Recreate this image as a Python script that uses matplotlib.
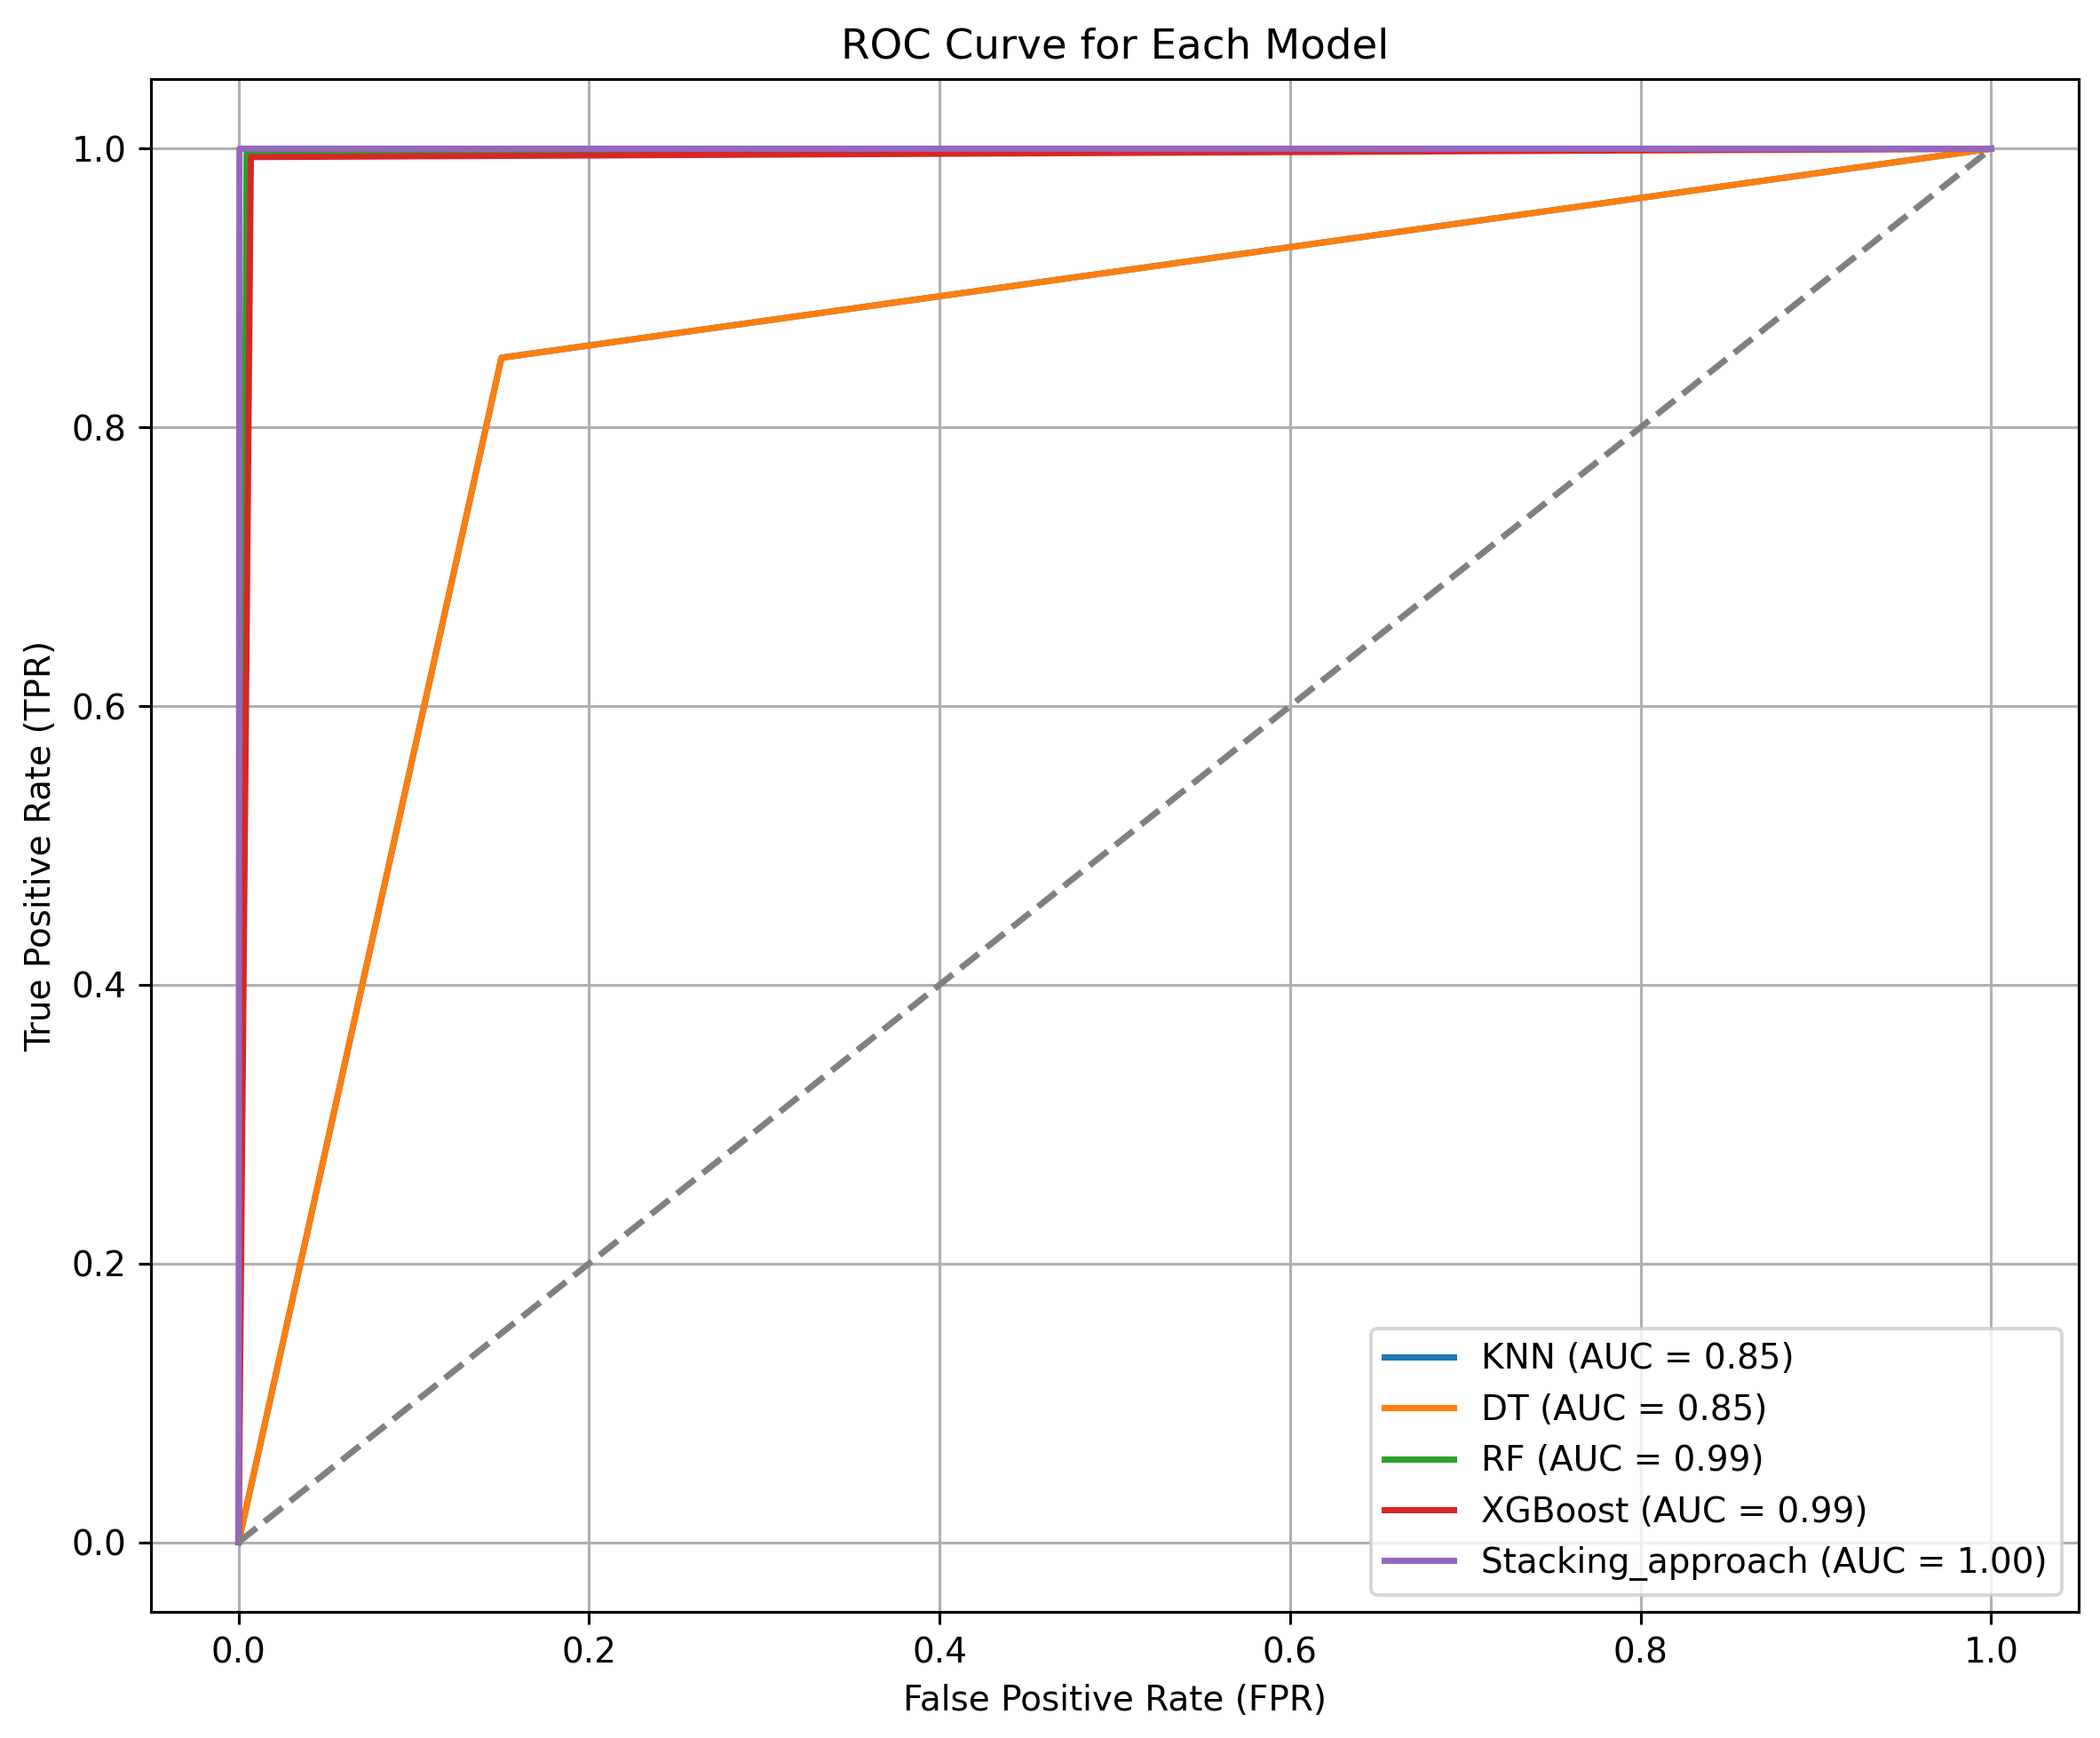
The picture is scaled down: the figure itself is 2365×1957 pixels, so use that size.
import numpy as np
import matplotlib
matplotlib.use("Agg")
import matplotlib.pyplot as plt

models = ["KNN", "DT", "RF", "XGBoost", "Stacking_approach"]
aucs = [0.85, 0.85, 0.99, 0.99, 1.00]
fpr_knn = [0.0, 0.15, 1.0]
tpr_knn = [0.0, 0.85, 1.0]
fpr_dt = [0.0, 0.15, 1.0]
tpr_dt = [0.0, 0.85, 1.0]
fpr_rf = [0.0, 0.0046, 1.0]
tpr_rf = [0.0, 0.9966, 1.0]
fpr_xgb = [0.0, 0.007, 1.0]
tpr_xgb = [0.0, 0.994, 1.0]
fpr_stack = [0.0, 0.0005, 1.0]
tpr_stack = [0.0, 1.0, 1.0]

fprs = [fpr_knn, fpr_dt, fpr_rf, fpr_xgb, fpr_stack]
tprs = [tpr_knn, tpr_dt, tpr_rf, tpr_xgb, tpr_stack]

W, H, DPI = 2365, 1957, 280
fig = plt.figure(figsize=(W / DPI, H / DPI), dpi=DPI)
ax = fig.add_axes([170 / W, (H - 1815) / H, 2171 / W, 1726 / H])

for name, auc, f, t in zip(models, aucs, fprs, tprs):
    ax.plot(f, t, lw=1.8, label=f"{name} (AUC = {auc:.2f})")
ax.plot([0, 1], [0, 1], color="gray", linestyle="--", lw=1.8)

ax.set_xlabel("False Positive Rate (FPR)")
ax.set_ylabel("True Positive Rate (TPR)")
ax.set_title("ROC Curve for Each Model")
ax.legend(loc="lower right")
ax.grid(True)

fig.savefig("out.png", dpi=DPI)
